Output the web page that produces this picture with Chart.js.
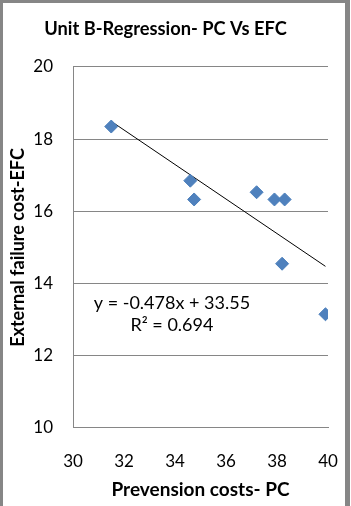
<!DOCTYPE html>
<html><head><meta charset="utf-8">
<script src="https://cdn.jsdelivr.net/npm/chart.js@4"></script>
<style>
html,body{margin:0;padding:0;background:#fff;}
#frame{position:absolute;left:0;top:0;width:350px;height:506px;background:#868686;}
#wrap{position:absolute;left:3px;top:3px;width:342px;height:503px;background:#fff;}
canvas{display:block;}
</style></head><body>
<div id="frame"></div>
<div id="wrap"><canvas id="c" width="342" height="503"></canvas></div>
<script>
// ---- data ----
const pcValues  = [31.5, 34.6, 34.75, 37.2, 37.9, 38.3, 38.2, 39.9];
const efcValues = [18.35, 16.85, 16.33, 16.53, 16.33, 16.33, 14.55, 13.15];
const trendSlope = -0.478;
const trendIntercept = 33.55;
const trendLabel = ["y = -0.478x + 33.55", "R\u00B2 = 0.694"];
const xTicks = [30, 32, 34, 36, 38, 40];
const yTicks = [10, 12, 14, 16, 18, 20];
const chartTitle = "Unit B-Regression- PC Vs EFC";
const xTitle = "Prevension costs- PC";
const yTitle = "External failure cost-EFC";

const points = pcValues.map((x, i) => ({x: x, y: efcValues[i]}));
const xMin = Math.min(...pcValues), xMax = Math.max(...pcValues);
const trend = [xMin, xMax].map(x => ({x: x, y: trendSlope * x + trendIntercept}));

const FONT = 'Lato';
const GRID = '#868686';

const annotationPlugin = {
  id: 'trendText',
  afterDatasetsDraw(chart) {
    const ctx = chart.ctx;
    const xs = chart.scales.x, ys = chart.scales.y;
    const px = xs.getPixelForValue(33.88);
    const py = ys.getPixelForValue(13.47);
    ctx.save();
    ctx.font = '18px ' + FONT;
    ctx.fillStyle = '#000';
    ctx.textAlign = 'center';
    ctx.textBaseline = 'middle';
    ctx.fillText(trendLabel[0], px, py);
    ctx.fillText(trendLabel[1], px, py + 22);
    ctx.restore();
  }
};

new Chart(document.getElementById('c'), {
  type: 'scatter',
  data: {
    datasets: [
      {
        label: 'EFC',
        data: points,
        pointStyle: 'rectRot',
        pointRadius: 6.5,
        pointHoverRadius: 6.5,
        backgroundColor: '#4F81BD',
        borderColor: '#4A7EBB',
        borderWidth: 1,
        order: 1
      },
      {
        label: 'Linear',
        type: 'line',
        data: trend,
        borderColor: '#000',
        borderWidth: 1,
        pointRadius: 0,
        fill: false,
        order: 2
      }
    ]
  },
  options: {
    responsive: false,
    animation: false,
    events: [],
    layout: { padding: { left: 0, right: 17, top: 0, bottom: 0 } },
    plugins: {
      legend: { display: false },
      tooltip: { enabled: false },
      title: {
        display: true,
        text: chartTitle,
        color: '#000',
        font: { family: FONT, size: 18.3, weight: 'bold' },
        padding: { top: 15, bottom: 27 }
      }
    },
    scales: {
      x: {
        type: 'linear',
        min: 30, max: 40,
        afterBuildTicks: s => { s.ticks = xTicks.map(v => ({value: v})); },
        afterFit: s => { s.height = 78; s.paddingLeft = 0; s.paddingRight = 0; },
        grid: { display: false },
        border: { display: true, color: GRID },
        ticks: { color: '#000', font: { family: FONT, size: 17 }, padding: 15, maxRotation: 0 },
        title: { display: true, text: xTitle, color: '#000', font: { family: FONT, size: 19, weight: 'bold' }, padding: { top: 0, bottom: 5 } }
      },
      y: {
        type: 'linear',
        min: 10, max: 20,
        afterBuildTicks: s => { s.ticks = yTicks.map(v => ({value: v})); },
        afterFit: s => { s.width = 70; s.paddingTop = 0; s.paddingBottom = 0; },
        grid: { color: GRID, drawTicks: false },
        border: { display: true, color: GRID },
        ticks: { color: '#000', font: { family: FONT, size: 17 }, padding: 20 },
        title: { display: true, text: yTitle, color: '#000', font: { family: FONT, size: 18, weight: 'bold' }, padding: { top: 4.2, bottom: 0 } }
      }
    }
  },
  plugins: [annotationPlugin]
});
</script>
</body></html>
